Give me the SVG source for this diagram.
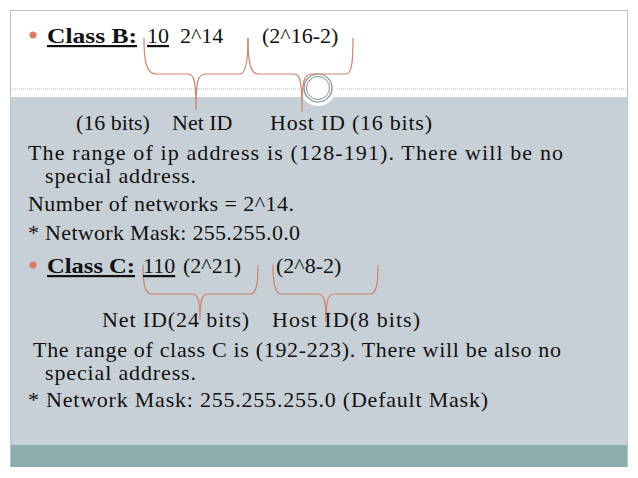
<svg xmlns="http://www.w3.org/2000/svg" width="638" height="478" viewBox="0 0 638 478">
<style>
text{font-family:"Liberation Serif","DejaVu Serif",serif;font-size:22px;fill:#111}
.b{font-weight:bold;text-decoration:underline}
.br{fill:none;stroke:#d2836e;stroke-width:1.2}
</style>
<rect width="638" height="478" fill="#fff"/>
<rect x="10.5" y="10.5" width="617" height="456" fill="#fff" stroke="#b8c4c8"/>
<rect x="11" y="97" width="616" height="348" fill="#c6d0d6"/>
<rect x="11" y="445" width="616" height="22" fill="#8aaeae"/>
<line x1="11" y1="89" x2="627" y2="89" stroke="#b8b8b8" stroke-dasharray="1 1"/>
<g id="circle"><circle cx="318" cy="88" r="18" fill="#fff"/><circle cx="318" cy="88" r="14" fill="none" stroke="#7a8c8c" stroke-width="1.2"/><circle cx="318" cy="88" r="11.5" fill="none" stroke="#7a8c8c" stroke-width="1"/></g>
<g id="connectors">
<path class="br" d="M144,38 C144,60 146,74 156,74 L188,74 C194,74 196,80 196,110 M196,110 C196,80 198,74 206,74 L240,74 C246,74 248,60 248,38"/>
<path class="br" d="M248,38 C248,60 250,74 258,74 L294,74 C300,74 302,80 302,112 M302,112 C302,80 304,74 312,74 L346,74 C352,74 353,60 353,38"/>
<path class="br" d="M143,265 C143,285 145,294 152,294 L192,294 C198,294 200,300 200,320 M200,320 C200,300 202,294 208,294 L250,294 C256,294 258,285 258,265"/>
<path class="br" d="M273,265 C273,285 275,294 282,294 L318,294 C324,294 326,300 326,322 M326,322 C326,300 328,294 334,294 L370,294 C376,294 378,285 378,265"/>
</g>
<g id="classB">
<circle cx="33" cy="35" r="3.5" fill="#e07a5f"/>
<text x="47" y="43" class="b" textLength="90" lengthAdjust="spacingAndGlyphs">Class B:</text>
<text x="147" y="43" text-decoration="underline">10</text>
<text x="180" y="43">2^14</text>
<text x="262" y="43">(2^16-2)</text>
</g>
<g id="labelsB">
<text x="76" y="130">(16 bits)</text>
<text x="172" y="130">Net ID</text>
<text x="270" y="130" textLength="162">Host ID (16 bits)</text>
</g>
<g id="body">
<text x="28" y="160" textLength="535">The range of ip address is (128-191). There will be no</text>
<text x="45" y="183" textLength="151">special address.</text>
<text x="28" y="211" textLength="266">Number of networks = 2^14.</text>
<text x="28" y="240" textLength="272">* Network Mask: 255.255.0.0</text>
</g>
<g id="classC">
<circle cx="33" cy="265" r="3.5" fill="#e07a5f"/>
<text x="47" y="273" class="b" textLength="88" lengthAdjust="spacingAndGlyphs">Class C:</text>
<text x="143" y="273" text-decoration="underline">110</text>
<text x="183" y="273">(2^21)</text>
<text x="276" y="273">(2^8-2)</text>
</g>
<g id="labelsC">
<text x="102" y="327" textLength="147">Net ID(24 bits)</text>
<text x="272" y="327" textLength="148">Host ID(8 bits)</text>
</g>
<g id="body2">
<text x="33" y="357" textLength="528">The range of class C is (192-223). There will be also no</text>
<text x="45" y="380" textLength="151">special address.</text>
<text x="28" y="407" textLength="460">* Network Mask: 255.255.255.0 (Default Mask)</text>
</g>
</svg>
